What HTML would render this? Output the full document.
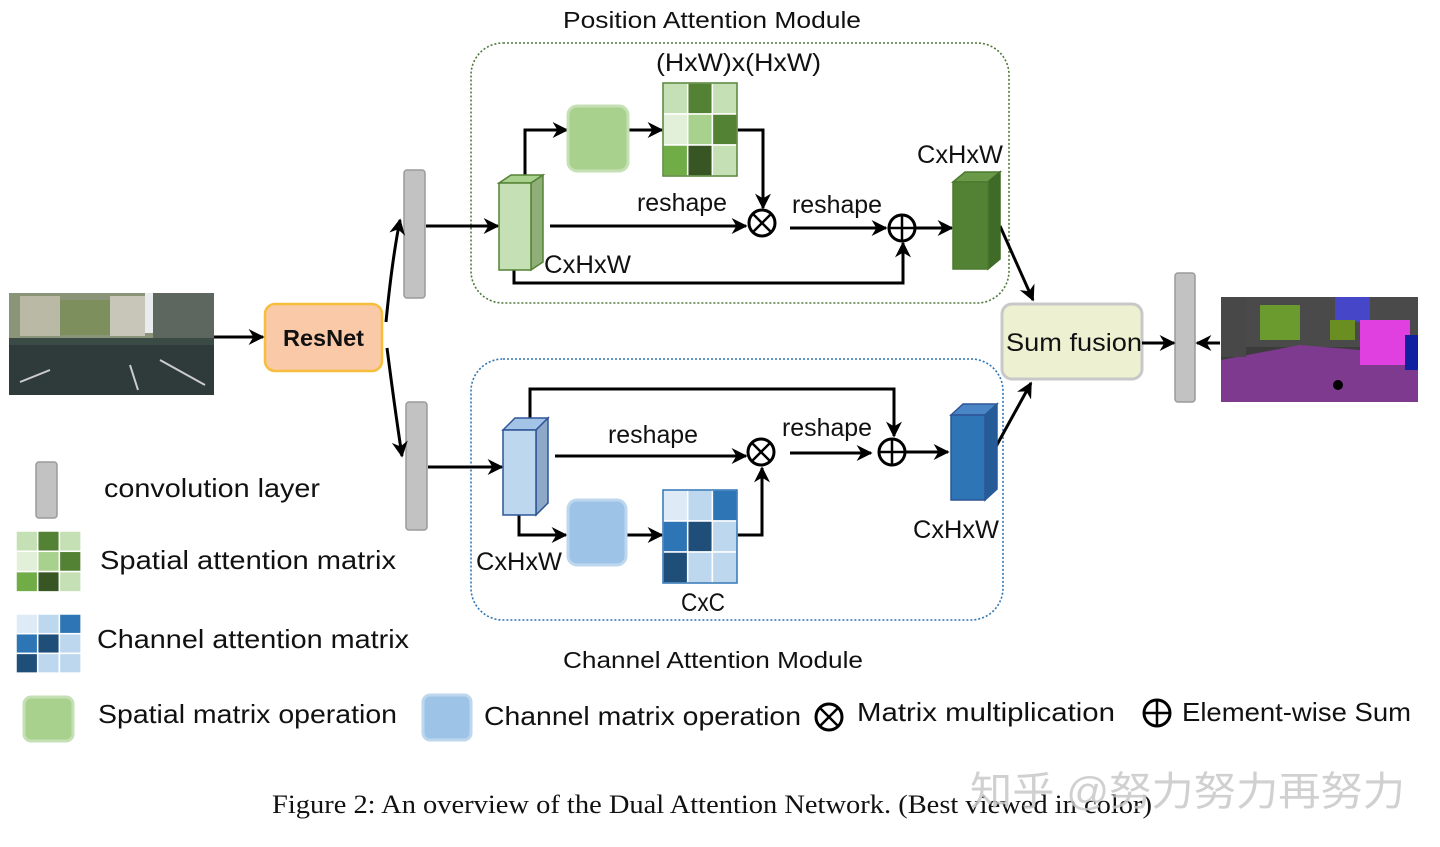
<!DOCTYPE html>
<html><head><meta charset="utf-8"><style>
html,body{margin:0;padding:0;background:#fff;}
svg{display:block;}
text{font-family:"Liberation Sans","DejaVu Sans",sans-serif;fill:#111;}
</style></head><body>
<svg width="1440" height="847" viewBox="0 0 1440 847" xmlns="http://www.w3.org/2000/svg">
<defs>
<marker id="b" viewBox="0 0 10 10" refX="9" refY="5" markerWidth="18" markerHeight="16" orient="auto" markerUnits="userSpaceOnUse"><path d="M0,0 L10,5 L0,10 L3,5 z" fill="#000"/></marker>
</defs>
<!-- titles -->
<text x="563" y="28" font-size="23" textLength="298" lengthAdjust="spacingAndGlyphs">Position Attention Module</text>
<text x="563" y="668" font-size="23" textLength="300" lengthAdjust="spacingAndGlyphs">Channel Attention Module</text>

<rect x="471" y="43" width="538" height="260" rx="32" fill="none" stroke="#4f7a3a" stroke-width="1.6" stroke-dasharray="2,2"/>
<rect x="471" y="359" width="532" height="261" rx="32" fill="none" stroke="#2e75b6" stroke-width="1.6" stroke-dasharray="2,2"/>

<!-- input image -->
<g>
<rect x="9" y="293" width="205" height="102" fill="#3a4a44"/>
<rect x="9" y="293" width="205" height="45" fill="#8a9478"/>
<rect x="20" y="296" width="40" height="40" fill="#b9b9a5"/>
<rect x="60" y="300" width="50" height="35" fill="#7d8f5c"/>
<rect x="110" y="296" width="35" height="40" fill="#c8c6b8"/>
<rect x="145" y="293" width="8" height="40" fill="#e8ecee"/>
<rect x="153" y="293" width="61" height="45" fill="#5e6660"/>
<polygon points="9,345 214,345 214,395 9,395" fill="#2f3b3b"/>
<line x1="20" y1="382" x2="50" y2="370" stroke="#ccc" stroke-width="2"/>
<line x1="130" y1="365" x2="138" y2="390" stroke="#ccc" stroke-width="2"/>
<line x1="160" y1="360" x2="205" y2="385" stroke="#ccc" stroke-width="2"/>
</g>

<!-- output seg image -->
<g>
<rect x="1221" y="297" width="197" height="105" fill="#3c3c3c"/>
<rect x="1221" y="297" width="197" height="50" fill="#4a4a4a"/>
<polygon points="1221,402 1221,360 1300,345 1418,355 1418,402" fill="#7e3a8e"/>
<rect x="1260" y="305" width="40" height="35" fill="#6b9b2f"/>
<rect x="1335" y="297" width="35" height="25" fill="#4646c8"/>
<rect x="1330" y="320" width="25" height="20" fill="#6b8e23"/>
<rect x="1360" y="320" width="50" height="45" fill="#e040e0"/>
<rect x="1405" y="335" width="13" height="35" fill="#1020a0"/>
<rect x="1221" y="297" width="25" height="60" fill="#484848"/>
<circle cx="1338" cy="385" r="5" fill="#000"/>
</g>

<rect x="265" y="304" width="117" height="67" rx="10" fill="#f9c9a8" stroke="#f5be3d" stroke-width="2.5"/>
<text x="283" y="346" font-size="23" font-weight="bold" textLength="81" lengthAdjust="spacingAndGlyphs">ResNet</text>

<rect x="404" y="170" width="21" height="128" rx="3" fill="#c2c2c2" stroke="#9a9a9a" stroke-width="1.5"/>
<rect x="406" y="402" width="21" height="128" rx="3" fill="#c2c2c2" stroke="#9a9a9a" stroke-width="1.5"/>
<rect x="1175" y="273" width="20" height="129" rx="3" fill="#c2c2c2" stroke="#9a9a9a" stroke-width="1.5"/>

<rect x="1002" y="304" width="140" height="75" rx="10" fill="#eef0d2" stroke="#c8c8c8" stroke-width="3"/>
<text x="1006" y="351" font-size="25" textLength="136" lengthAdjust="spacingAndGlyphs">Sum fusion</text>

<g stroke="#000" stroke-width="3" fill="none">
<line x1="214" y1="337" x2="263" y2="337" marker-end="url(#b)"/>
<path d="M386,322 Q392,260 400,220" marker-end="url(#b)"/>
<path d="M387,348 Q395,410 402,456" marker-end="url(#b)"/>
<line x1="426" y1="226" x2="498" y2="226" marker-end="url(#b)"/>
<line x1="428" y1="467" x2="502" y2="467" marker-end="url(#b)"/>
<line x1="1000" y1="226" x2="1033" y2="300" marker-end="url(#b)"/>
<line x1="993" y1="452" x2="1031" y2="383" marker-end="url(#b)"/>
<line x1="1142" y1="343" x2="1174" y2="343" marker-end="url(#b)"/>
<line x1="1220" y1="343" x2="1197" y2="343" marker-end="url(#b)"/>
<polyline points="525,176 525,130 567,130" marker-end="url(#b)"/>
<line x1="628" y1="130" x2="662" y2="130" marker-end="url(#b)"/>
<polyline points="737,130 763,130 763,208" marker-end="url(#b)"/>
<line x1="550" y1="226" x2="746" y2="226" marker-end="url(#b)"/>
<line x1="790" y1="228" x2="886" y2="228" marker-end="url(#b)"/>
<line x1="916" y1="228" x2="952" y2="228" marker-end="url(#b)"/>
<polyline points="514,270 514,283 903,283 903,243" marker-end="url(#b)"/>
<polyline points="530,419 530,389 894,389 894,436" marker-end="url(#b)"/>
<line x1="555" y1="456" x2="746" y2="456" marker-end="url(#b)"/>
<line x1="790" y1="453" x2="871" y2="453" marker-end="url(#b)"/>
<line x1="906" y1="452" x2="948" y2="452" marker-end="url(#b)"/>
<polyline points="519,515 519,535 566,535" marker-end="url(#b)"/>
<line x1="626" y1="535" x2="662" y2="535" marker-end="url(#b)"/>
<polyline points="737,535 762,535 762,468" marker-end="url(#b)"/>
</g>

<g stroke="#000" stroke-width="3" fill="#fff">
<circle cx="762" cy="223" r="13"/><circle cx="902" cy="228" r="13"/>
<circle cx="761" cy="452" r="13"/><circle cx="892" cy="452" r="13"/>
<circle cx="829" cy="717" r="13"/><circle cx="1157" cy="713" r="13"/>
</g>
<g stroke="#000" stroke-width="2.5">
<line x1="753" y1="214" x2="771" y2="232"/><line x1="771" y1="214" x2="753" y2="232"/>
<line x1="752" y1="443" x2="770" y2="461"/><line x1="770" y1="443" x2="752" y2="461"/>
<line x1="820" y1="708" x2="838" y2="726"/><line x1="838" y1="708" x2="820" y2="726"/>
<line x1="889" y1="228" x2="915" y2="228"/><line x1="902" y1="215" x2="902" y2="241"/>
<line x1="879" y1="452" x2="905" y2="452"/><line x1="892" y1="439" x2="892" y2="465"/>
<line x1="1144" y1="713" x2="1170" y2="713"/><line x1="1157" y1="700" x2="1157" y2="726"/>
</g>

<g stroke-width="1.5">
<polygon points="499,183 511,175 543,175 531,183" fill="#a9d18e" stroke="#548235"/>
<polygon points="531,183 543,175 543,262 531,270" fill="#8fae78" stroke="#548235"/>
<rect x="499" y="183" width="32" height="87" fill="#c5e0b4" stroke="#548235"/>
<polygon points="953,182 965,172 1000,172 988,182" fill="#6a9a48" stroke="#4a7a2e"/>
<polygon points="988,182 1000,172 1000,259 988,269" fill="#3f6b26" stroke="#3f6b26"/>
<rect x="953" y="182" width="35" height="87" fill="#548235" stroke="#4a7a2e"/>
<polygon points="503,430 515,418 548,418 536,430" fill="#a3c4e6" stroke="#2f5597"/>
<polygon points="536,430 548,418 548,503 536,515" fill="#8ea9c8" stroke="#2f5597"/>
<rect x="503" y="430" width="33" height="85" fill="#bdd7ee" stroke="#2f5597"/>
<polygon points="951,415 963,404 997,404 985,415" fill="#4a86c6" stroke="#2f5597"/>
<polygon points="985,415 997,404 997,489 985,500" fill="#255b96" stroke="#255b96"/>
<rect x="951" y="415" width="34" height="85" fill="#2e75b6" stroke="#2f5597"/>
</g>

<rect x="568" y="106" width="60" height="65" rx="9" fill="#a9d18e" stroke="#c5e0b4" stroke-width="3"/>
<rect x="568" y="500" width="58" height="65" rx="9" fill="#9dc3e6" stroke="#bdd7ee" stroke-width="3"/>
<rect x="24" y="697" width="49" height="44" rx="7" fill="#a9d18e" stroke="#c5e0b4" stroke-width="3"/>
<rect x="423" y="695" width="48" height="45" rx="7" fill="#9dc3e6" stroke="#bdd7ee" stroke-width="3"/>
<rect x="36" y="462" width="21" height="56" rx="3" fill="#c2c2c2" stroke="#9a9a9a" stroke-width="1.5"/>

<g stroke="#fff" stroke-width="1.5">
<g transform="translate(663,83)">
<rect x="0" y="0" width="24.7" height="31" fill="#c5e0b4"/><rect x="24.7" y="0" width="24.7" height="31" fill="#548235"/><rect x="49.4" y="0" width="24.7" height="31" fill="#c5e0b4"/>
<rect x="0" y="31" width="24.7" height="31" fill="#e2efd9"/><rect x="24.7" y="31" width="24.7" height="31" fill="#a9d18e"/><rect x="49.4" y="31" width="24.7" height="31" fill="#548235"/>
<rect x="0" y="62" width="24.7" height="31" fill="#70ad47"/><rect x="24.7" y="62" width="24.7" height="31" fill="#375623"/><rect x="49.4" y="62" width="24.7" height="31" fill="#c5e0b4"/>
<rect x="0" y="0" width="74" height="93" fill="none" stroke="#548235"/>
</g>
<g transform="translate(663,490)">
<rect x="0" y="0" width="24.7" height="31" fill="#deebf7"/><rect x="24.7" y="0" width="24.7" height="31" fill="#bdd7ee"/><rect x="49.4" y="0" width="24.7" height="31" fill="#2e75b6"/>
<rect x="0" y="31" width="24.7" height="31" fill="#2e75b6"/><rect x="24.7" y="31" width="24.7" height="31" fill="#1f4e79"/><rect x="49.4" y="31" width="24.7" height="31" fill="#bdd7ee"/>
<rect x="0" y="62" width="24.7" height="31" fill="#1f4e79"/><rect x="24.7" y="62" width="24.7" height="31" fill="#bdd7ee"/><rect x="49.4" y="62" width="24.7" height="31" fill="#bdd7ee"/>
<rect x="0" y="0" width="74" height="93" fill="none" stroke="#2e75b6"/>
</g>
<g transform="translate(16,531)">
<rect x="0" y="0" width="21.7" height="20.3" fill="#c5e0b4"/><rect x="21.7" y="0" width="21.7" height="20.3" fill="#548235"/><rect x="43.4" y="0" width="21.7" height="20.3" fill="#c5e0b4"/>
<rect x="0" y="20.3" width="21.7" height="20.3" fill="#e2efd9"/><rect x="21.7" y="20.3" width="21.7" height="20.3" fill="#a9d18e"/><rect x="43.4" y="20.3" width="21.7" height="20.3" fill="#548235"/>
<rect x="0" y="40.6" width="21.7" height="20.3" fill="#70ad47"/><rect x="21.7" y="40.6" width="21.7" height="20.3" fill="#375623"/><rect x="43.4" y="40.6" width="21.7" height="20.3" fill="#c5e0b4"/>
</g>
<g transform="translate(16,614)">
<rect x="0" y="0" width="21.7" height="19.7" fill="#deebf7"/><rect x="21.7" y="0" width="21.7" height="19.7" fill="#bdd7ee"/><rect x="43.4" y="0" width="21.7" height="19.7" fill="#2e75b6"/>
<rect x="0" y="19.7" width="21.7" height="19.7" fill="#2e75b6"/><rect x="21.7" y="19.7" width="21.7" height="19.7" fill="#1f4e79"/><rect x="43.4" y="19.7" width="21.7" height="19.7" fill="#bdd7ee"/>
<rect x="0" y="39.4" width="21.7" height="19.7" fill="#1f4e79"/><rect x="21.7" y="39.4" width="21.7" height="19.7" fill="#bdd7ee"/><rect x="43.4" y="39.4" width="21.7" height="19.7" fill="#bdd7ee"/>
</g>
</g>

<g font-size="25">
<text x="656" y="71" textLength="165" lengthAdjust="spacingAndGlyphs">(HxW)x(HxW)</text>
<text x="637" y="211" textLength="90" lengthAdjust="spacingAndGlyphs">reshape</text>
<text x="792" y="213" textLength="90" lengthAdjust="spacingAndGlyphs">reshape</text>
<text x="917" y="163" textLength="86" lengthAdjust="spacingAndGlyphs">CxHxW</text>
<text x="544" y="273" textLength="87" lengthAdjust="spacingAndGlyphs">CxHxW</text>
<text x="608" y="443" textLength="90" lengthAdjust="spacingAndGlyphs">reshape</text>
<text x="782" y="436" textLength="90" lengthAdjust="spacingAndGlyphs">reshape</text>
<text x="913" y="538" textLength="86" lengthAdjust="spacingAndGlyphs">CxHxW</text>
<text x="476" y="570" textLength="86" lengthAdjust="spacingAndGlyphs">CxHxW</text>
<text x="681" y="611" textLength="44" lengthAdjust="spacingAndGlyphs">CxC</text>
</g>
<g font-size="26">
<text x="104" y="497" textLength="216" lengthAdjust="spacingAndGlyphs">convolution layer</text>
<text x="100" y="569" textLength="296" lengthAdjust="spacingAndGlyphs">Spatial attention matrix</text>
<text x="97" y="648" textLength="312" lengthAdjust="spacingAndGlyphs">Channel attention matrix</text>
<text x="98" y="723" textLength="299" lengthAdjust="spacingAndGlyphs">Spatial matrix operation</text>
<text x="484" y="725" textLength="317" lengthAdjust="spacingAndGlyphs">Channel matrix operation</text>
<text x="857" y="721" textLength="258" lengthAdjust="spacingAndGlyphs">Matrix multiplication</text>
<text x="1182" y="721" textLength="229" lengthAdjust="spacingAndGlyphs">Element-wise Sum</text>
</g>
<text x="272" y="813" font-size="26" textLength="880" lengthAdjust="spacingAndGlyphs" style="font-family:'Liberation Serif',serif">Figure 2: An overview of the Dual Attention Network. (Best viewed in color)</text>
<text x="970" y="805" font-size="40" textLength="435" lengthAdjust="spacingAndGlyphs" style="font-family:'Liberation Sans','Noto Sans CJK SC',sans-serif;fill:#c8c8c8;opacity:0.85">知乎 @努力努力再努力</text>
</svg>
</body></html>
